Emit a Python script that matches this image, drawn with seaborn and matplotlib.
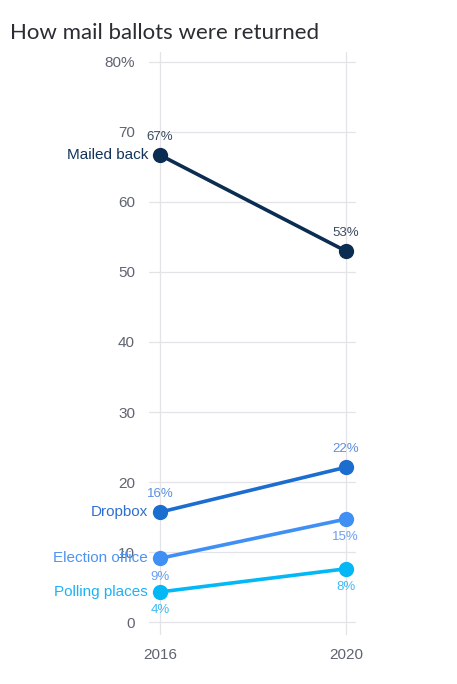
import pandas as pd
import numpy as np
import seaborn as sns
import matplotlib.pyplot as plt

# Dados
anos = [2016, 2020]
metodos = ['Mailed back', 'Dropbox', 'Election office', 'Polling places']
mailed_back = [66.7, 53.0]
dropbox = [15.7, 22.1]
election_office = [9.1, 14.7]
polling_places = [4.3, 7.6]
rotulos = {
    'Mailed back': ['67%', '53%'],
    'Dropbox': ['16%', '22%'],
    'Election office': ['9%', '15%'],
    'Polling places': ['4%', '8%'],
}
y_ticks = [0, 10, 20, 30, 40, 50, 60, 70, 80]
y_tick_labels = ['0', '10', '20', '30', '40', '50', '60', '70', '80%']

cores_linha = {'Mailed back': '#0c2d52', 'Dropbox': '#1b6dd0',
               'Election office': '#3f8ff5', 'Polling places': '#03b8f5'}
cores_texto = {'Mailed back': '#12345a', 'Dropbox': '#2f6fd0',
               'Election office': '#4f93f0', 'Polling places': '#1db2f5'}
cores_pct = {'Mailed back': '#3a4a5e', 'Dropbox': '#5b8fe0',
             'Election office': '#6b9ff0', 'Polling places': '#3cbcf5'}
# posição do rótulo de percentual: acima (1) ou abaixo (-1)
lado_pct = {'Mailed back': 1, 'Dropbox': 1, 'Election office': -1, 'Polling places': -1}

valores = [mailed_back, dropbox, election_office, polling_places]
df = pd.DataFrame({
    'ano': anos * len(metodos),
    'metodo': [m for m in metodos for _ in anos],
    'valor': [v for serie in valores for v in serie],
})

sns.set_style('white')
plt.rcParams['font.family'] = ['Liberation Sans', 'DejaVu Sans']

fig = plt.figure(figsize=(4.57, 6.84), dpi=100)
ax = fig.add_axes([0.326, 0.0716, 0.453, 0.8524])

sns.lineplot(data=df, x='ano', y='valor', hue='metodo', palette=cores_linha,
             marker='o', markersize=11, markeredgewidth=0, linewidth=2.6,
             legend=False, ax=ax)

for m in metodos:
    sub = df[df['metodo'] == m]
    ys = sub['valor'].tolist()
    ax.text(2016 - 0.26, ys[0], m, ha='right', va='center', fontsize=11,
            color=cores_texto[m])
    for i, (x, y) in enumerate(zip(sub['ano'], ys)):
        dy = 2.6 * lado_pct[m]
        ax.text(x, y + dy, rotulos[m][i], ha='center', va='center',
                fontsize=9.5, color=cores_pct[m])

ax.set_xlim(2015.76, 2020.22)
ax.set_ylim(-1.86, 81.43)
ax.set_xticks(anos)
ax.set_xticklabels([str(a) for a in anos])
ax.set_yticks(y_ticks)
ax.set_yticklabels(y_tick_labels)
ax.tick_params(axis='both', length=0, labelsize=11, labelcolor='#5f6470')
ax.tick_params(axis='y', pad=10)
ax.tick_params(axis='x', pad=9)
ax.grid(True, color='#e3e3e8', linewidth=0.9)
ax.set_axisbelow(True)
for s in ax.spines.values():
    s.set_visible(False)
ax.set_xlabel('')
ax.set_ylabel('')

fig.text(10 / 457, 1 - 33 / 684, 'How mail ballots were returned', ha='left',
         va='center', fontsize=16, color='#2a2d33', family=['Lato', 'DejaVu Sans'])

fig.savefig('out.png', dpi=100)
